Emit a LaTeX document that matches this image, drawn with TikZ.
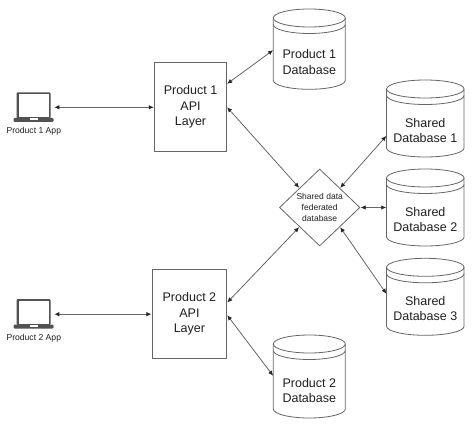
\documentclass[tikz,border=0pt]{standalone}
\usepackage{fontspec}
\setmainfont{Liberation Sans}
\usetikzlibrary{shapes.geometric,arrows.meta}
\definecolor{ln}{gray}{0.4}
\definecolor{ic}{gray}{0.32}
\definecolor{tx}{gray}{0.12}
\tikzset{x=1pt,y=-1pt,
 apibox/.style={draw=ln,line width=.8pt,align=center,font=\fontsize{12.5}{15.6}\selectfont,text=tx,inner sep=0pt},
 dbtext/.style={minimum width=#1,inner sep=0pt,outer sep=0pt,align=center,font=\fontsize{12.5}{15.4}\selectfont,text=tx},
 hub/.style={diamond,draw=ln,line width=.8pt,minimum width=80.5pt,minimum height=77pt,inner sep=0pt,align=center,font=\fontsize{8.5}{10.7}\selectfont,text=tx},
 applabel/.style={font=\fontsize{8.6}{10}\selectfont,text=tx,inner sep=0pt},
 link/.style={draw=ln,line width=.8pt,{Latex[length=5pt,width=4.5pt,color=black!85]}-{Latex[length=5pt,width=4.5pt,color=black!85]},shorten >=.3pt,shorten <=.3pt},
 dbline/.style={draw=ln,line width=.8pt}}
% name, cx, top, width, height, text offset, text
\newcommand{\dbcyl}[7]{%
 \path[dbline,fill=white] (#2-#4/2,#3+9) -- (#2-#4/2,#3+#5-9) arc[start angle=180,end angle=0,x radius=#4/2,y radius=9] -- (#2+#4/2,#3+9) arc[start angle=0,end angle=-180,x radius=#4/2,y radius=9];
 \path[dbline] (#2-#4/2,#3+9) arc[start angle=180,end angle=0,x radius=#4/2,y radius=9];
 \path[dbline] (#2-#4/2,#3+15.5) arc[start angle=180,end angle=0,x radius=#4/2,y radius=9];
 \node[dbtext=#4pt] (#1) at (#2,#3+#6) {#7};
}
\newcommand{\laptop}[3]{%
 \fill[ic,rounded corners=1pt] (#2-17,#3-15) rectangle (#2+17,#3+11);
 \fill[white] (#2-15,#3-13) rectangle (#2+15,#3+10);
 \fill[ic,rounded corners=1.2pt] (#2-20,#3+10.5) -- (#2+20,#3+10.5) -- (#2+20,#3+14.5) -- (#2-20,#3+14.5) -- cycle;
 \fill[white] (#2-4,#3+10.8) rectangle (#2+4,#3+12.6);
 \coordinate (#1) at (#2,#3);
}
\begin{document}
\begin{tikzpicture}
\useasboundingbox (0,0) rectangle (474,425);
\fill[white] (0,0) rectangle (474,425);
\laptop{app1}{33.5}{107.5}
\laptop{app2}{33.5}{314}
\node[applabel] (l1) at (33.8,131.5) {Product 1 App};
\node[applabel] (l2) at (33.8,338.5) {Product 2 App};
\coordinate (a1) at (54,107.3);
\coordinate (a2) at (54,314.2);
\node[apibox,minimum width=72pt,minimum height=89pt] (p1) at (190.5,106.9) {Product 1\\API\\Layer};
\node[apibox,minimum width=74.5pt,minimum height=89.5pt] (p2) at (189.4,314) {Product 2\\API\\Layer};
\node[hub] (hub) at (319.7,207.5) {Shared data\\federated\\database};
\dbcyl{db1}{309.3}{9}{72}{80.3}{53}{Product 1\\Database}
\dbcyl{db2}{309.3}{335}{72}{83}{55.5}{Product 2\\Database}
\dbcyl{s1}{425.3}{80}{77.5}{77}{50.5}{Shared\\Database 1}
\dbcyl{s2}{425.3}{169}{77.5}{77}{50.5}{Shared\\Database 2}
\dbcyl{s3}{425.3}{258.3}{77.5}{77}{50.5}{Shared\\Database 3}
\draw[link] (a1) -- (p1.west|-a1);
\draw[link] (a2) -- (p2.west|-a2);
\draw[link] (p1.east|-0,84) -- (db1.west|-0,50);
\draw[link] (p2.east|-0,315) -- (db2.west|-0,376);
\draw[link] (p1.east|-0,107) -- (hub.north west);
\draw[link] (p2.east|-0,302.7) -- (hub.south west);
\draw[link] (hub.north east) -- (s1.west|-0,135.7);
\draw[link] (hub.east) -- (s2.west|-hub.east);
\draw[link] (hub.south east) -- (s3.west|-0,294);
\end{tikzpicture}
\end{document}
